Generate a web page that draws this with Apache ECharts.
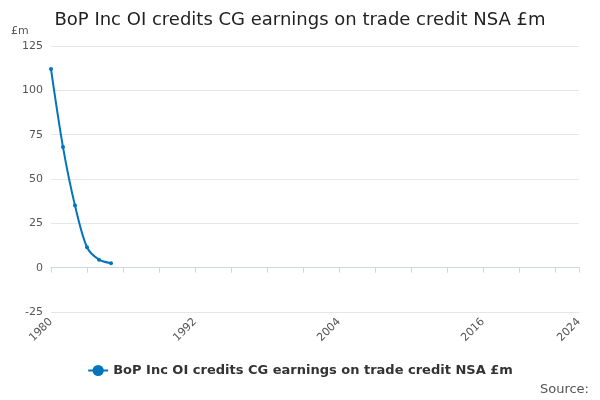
<!DOCTYPE html>
<html><head><meta charset="utf-8">
<script src="https://cdn.jsdelivr.net/npm/echarts@6/dist/echarts.min.js"></script>
<style>html,body{margin:0;padding:0}#c{width:600px;height:400px}</style>
</head><body><div id="c"></div>
<script>
var years=[1980,1981,1982,1983,1984,1985];
var values=[112,68,35,11.5,4.5,2.5];
var xLabels=[1980,1992,2004,2016,2024];
var seriesName='BoP Inc OI credits CG earnings on trade credit NSA £m';
var chart=echarts.init(document.getElementById('c'));
chart.setOption({
 animation:false,
 title:{text:'BoP Inc OI credits CG earnings on trade credit NSA £m',left:'center',top:6,textStyle:{fontFamily:'DejaVu Sans',fontSize:18,fontWeight:'normal',color:'#222'}},
 graphic:[{type:'text',left:11,top:26,style:{text:'£m',font:'11px DejaVu Sans',fill:'#555'}},
  {type:'text',right:11,top:383,style:{text:'Source:',font:'13px DejaVu Sans',fill:'#555'}}],
 legend:{bottom:18,left:'center',textStyle:{fontFamily:'DejaVu Sans',fontSize:13,fontWeight:'bold',color:'#333'},itemWidth:20,data:[seriesName]},
 grid:{left:51,right:21,top:46,bottom:88},
 xAxis:{type:'value',min:1980,max:2024,interval:3,
  axisLine:{lineStyle:{color:'#ccd6eb'}},axisTick:{show:true,lineStyle:{color:'#ccd6eb'}},splitLine:{show:false},
  axisLabel:{rotate:45,color:'#555',fontFamily:'DejaVu Sans',fontSize:11,showMaxLabel:true,
   formatter:function(v){return xLabels.indexOf(v)>=0?String(v):'';}}},
 yAxis:{type:'value',min:-25,max:125,interval:25,
  axisLine:{show:false},axisTick:{show:false},
  splitLine:{lineStyle:{color:'#e6e6e6'}},
  axisLabel:{color:'#555',fontFamily:'DejaVu Sans',fontSize:11}},
 series:[{name:seriesName,type:'line',smooth:0.3,symbol:'circle',symbolSize:4,
  itemStyle:{color:'#0075bd'},lineStyle:{width:2,color:'#0075bd'},
  data:years.map(function(y,i){return [y,values[i]];})}]
});
</script></body></html>
